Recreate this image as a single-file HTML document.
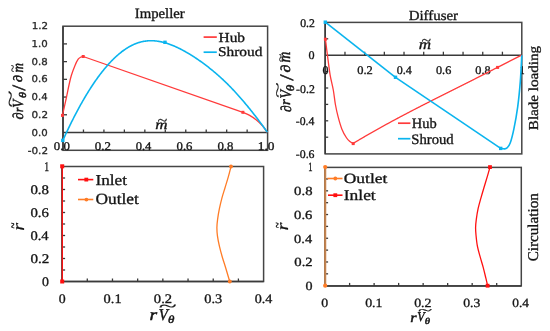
<!DOCTYPE html>
<html><head><meta charset="utf-8"><style>
html,body{margin:0;padding:0;background:#fff;}
body{width:550px;height:331px;overflow:hidden;}
svg{display:block;filter:blur(0.35px);text-rendering:geometricPrecision;}
</style></head><body>
<svg width="550" height="331" viewBox="0 0 550 331" xmlns="http://www.w3.org/2000/svg">
<rect width="550" height="331" fill="#fff"/>
<rect x="63.00" y="26.20" width="204.60" height="124.10" fill="none" stroke="#454545" stroke-width="1.5"/>
<line x1="63.00" y1="26.20" x2="63.00" y2="150.30" stroke="#3a3a3a" stroke-width="1.5" />
<line x1="63.00" y1="132.50" x2="267.60" y2="132.50" stroke="#3a3a3a" stroke-width="1.6" />
<line x1="83.46" y1="132.50" x2="83.46" y2="129.50" stroke="#3a3a3a" stroke-width="1.3" />
<line x1="103.92" y1="132.50" x2="103.92" y2="129.50" stroke="#3a3a3a" stroke-width="1.3" />
<line x1="124.38" y1="132.50" x2="124.38" y2="129.50" stroke="#3a3a3a" stroke-width="1.3" />
<line x1="144.84" y1="132.50" x2="144.84" y2="129.50" stroke="#3a3a3a" stroke-width="1.3" />
<line x1="165.30" y1="132.50" x2="165.30" y2="129.50" stroke="#3a3a3a" stroke-width="1.3" />
<line x1="185.76" y1="132.50" x2="185.76" y2="129.50" stroke="#3a3a3a" stroke-width="1.3" />
<line x1="206.22" y1="132.50" x2="206.22" y2="129.50" stroke="#3a3a3a" stroke-width="1.3" />
<line x1="226.68" y1="132.50" x2="226.68" y2="129.50" stroke="#3a3a3a" stroke-width="1.3" />
<line x1="247.14" y1="132.50" x2="247.14" y2="129.50" stroke="#3a3a3a" stroke-width="1.3" />
<line x1="63.00" y1="43.90" x2="67.00" y2="43.90" stroke="#3a3a3a" stroke-width="1.3" />
<line x1="63.00" y1="61.62" x2="67.00" y2="61.62" stroke="#3a3a3a" stroke-width="1.3" />
<line x1="63.00" y1="79.34" x2="67.00" y2="79.34" stroke="#3a3a3a" stroke-width="1.3" />
<line x1="63.00" y1="97.06" x2="67.00" y2="97.06" stroke="#3a3a3a" stroke-width="1.3" />
<line x1="63.00" y1="114.78" x2="67.00" y2="114.78" stroke="#3a3a3a" stroke-width="1.3" />
<text transform="translate(31.67 28.88) scale(1.088 1)" font-size="9.46" font-family="'DejaVu Sans', 'Liberation Sans', sans-serif" fill="#2a2a2a" stroke="#2a2a2a" stroke-width="0.32">1.2</text>
<text transform="translate(31.48 46.73) scale(1.076 1)" font-size="9.46" font-family="'DejaVu Sans', 'Liberation Sans', sans-serif" fill="#2a2a2a" stroke="#2a2a2a" stroke-width="0.32">1.0</text>
<text transform="translate(31.54 64.58) scale(1.072 1)" font-size="9.46" font-family="'DejaVu Sans', 'Liberation Sans', sans-serif" fill="#2a2a2a" stroke="#2a2a2a" stroke-width="0.32">0.8</text>
<text transform="translate(31.54 82.43) scale(1.068 1)" font-size="9.46" font-family="'DejaVu Sans', 'Liberation Sans', sans-serif" fill="#2a2a2a" stroke="#2a2a2a" stroke-width="0.32">0.6</text>
<text transform="translate(31.55 100.27) scale(1.064 1)" font-size="9.46" font-family="'DejaVu Sans', 'Liberation Sans', sans-serif" fill="#2a2a2a" stroke="#2a2a2a" stroke-width="0.32">0.4</text>
<text transform="translate(31.52 118.12) scale(1.098 1)" font-size="9.46" font-family="'DejaVu Sans', 'Liberation Sans', sans-serif" fill="#2a2a2a" stroke="#2a2a2a" stroke-width="0.32">0.2</text>
<text transform="translate(31.54 135.97) scale(1.072 1)" font-size="9.46" font-family="'DejaVu Sans', 'Liberation Sans', sans-serif" fill="#2a2a2a" stroke="#2a2a2a" stroke-width="0.32">0.0</text>
<text transform="translate(27.68 153.82) scale(1.104 1)" font-size="9.46" font-family="'DejaVu Sans', 'Liberation Sans', sans-serif" fill="#2a2a2a" stroke="#2a2a2a" stroke-width="0.32">-0.2</text>
<text transform="translate(53.79 150.40) scale(1.093 1)" font-size="11.73" font-family="'Liberation Serif', 'Times New Roman', serif" fill="#151515" stroke="#151515" stroke-width="0.32">0.0</text>
<text transform="translate(94.70 150.40) scale(1.107 1)" font-size="11.73" font-family="'Liberation Serif', 'Times New Roman', serif" fill="#151515" stroke="#151515" stroke-width="0.32">0.2</text>
<text transform="translate(135.64 150.40) scale(1.070 1)" font-size="11.73" font-family="'Liberation Serif', 'Times New Roman', serif" fill="#151515" stroke="#151515" stroke-width="0.32">0.4</text>
<text transform="translate(176.55 150.40) scale(1.084 1)" font-size="11.73" font-family="'Liberation Serif', 'Times New Roman', serif" fill="#151515" stroke="#151515" stroke-width="0.32">0.6</text>
<text transform="translate(217.47 150.40) scale(1.093 1)" font-size="11.73" font-family="'Liberation Serif', 'Times New Roman', serif" fill="#151515" stroke="#151515" stroke-width="0.32">0.8</text>
<text transform="translate(257.69 150.40) scale(1.142 1)" font-size="11.73" font-family="'Liberation Serif', 'Times New Roman', serif" fill="#151515" stroke="#151515" stroke-width="0.32">1.0</text>
<path d="M62.40,115.40 C62.82,113.57 64.13,107.85 64.90,104.40 C65.67,100.95 66.32,97.93 67.00,94.70 C67.68,91.47 68.27,88.23 69.00,85.00 C69.73,81.77 70.43,78.48 71.40,75.30 C72.37,72.12 73.67,68.58 74.80,65.90 C75.93,63.22 77.17,60.68 78.20,59.20 C79.23,57.72 80.17,57.45 81.00,57.00 C81.83,56.55 82.83,56.58 83.20,56.50" fill="none" stroke="#ff3a3a" stroke-width="1.3" stroke-linejoin="round"/>
<line x1="83.20" y1="56.50" x2="242.90" y2="112.30" stroke="#ff3a3a" stroke-width="1.3" />
<path d="M242.90,112.30 C243.95,112.77 246.95,113.83 249.20,115.10 C251.45,116.37 254.18,118.12 256.40,119.90 C258.62,121.68 260.68,123.73 262.50,125.80 C264.32,127.87 266.50,131.22 267.30,132.30" fill="none" stroke="#ff3a3a" stroke-width="1.3" stroke-linejoin="round"/>
<rect x="61.00" y="113.90" width="3" height="3" fill="#ff3a3a"/>
<rect x="81.70" y="55.00" width="3" height="3" fill="#ff3a3a"/>
<rect x="241.40" y="110.80" width="3" height="3" fill="#ff3a3a"/>
<path d="M62.80,140.50 L63.47,139.03 L64.13,137.57 L64.80,136.12 L65.47,134.69 L66.13,133.26 L66.80,131.85 L67.47,130.44 L68.13,129.04 L68.80,127.66 L69.46,126.28 L70.13,124.92 L70.80,123.56 L71.46,122.22 L72.13,120.88 L72.80,119.56 L73.46,118.24 L74.13,116.94 L74.80,115.65 L75.46,114.37 L76.13,113.09 L76.80,111.83 L77.46,110.58 L78.13,109.34 L78.79,108.11 L79.46,106.89 L80.13,105.68 L80.79,104.48 L81.46,103.29 L82.13,102.12 L82.79,100.95 L83.46,99.79 L84.13,98.65 L84.79,97.51 L85.46,96.39 L86.13,95.27 L86.79,94.17 L87.46,93.08 L88.13,92.00 L88.79,90.93 L89.46,89.87 L90.12,88.82 L90.79,87.78 L91.46,86.75 L92.12,85.74 L92.79,84.73 L93.46,83.73 L94.12,82.75 L94.79,81.78 L95.46,80.82 L96.12,79.86 L96.79,78.92 L97.46,77.99 L98.12,77.08 L98.79,76.17 L99.45,75.27 L100.12,74.39 L100.79,73.51 L101.45,72.65 L102.12,71.80 L102.79,70.96 L103.45,70.13 L104.12,69.31 L104.79,68.50 L105.45,67.71 L106.12,66.92 L106.79,66.15 L107.45,65.38 L108.12,64.63 L108.79,63.89 L109.45,63.16 L110.12,62.45 L110.78,61.74 L111.45,61.05 L112.12,60.36 L112.78,59.69 L113.45,59.03 L114.12,58.38 L114.78,57.75 L115.45,57.12 L116.12,56.50 L116.78,55.90 L117.45,55.31 L118.12,54.73 L118.78,54.16 L119.45,53.61 L120.11,53.06 L120.78,52.53 L121.45,52.00 L122.11,51.49 L122.78,50.99 L123.45,50.51 L124.11,50.03 L124.78,49.57 L125.45,49.12 L126.11,48.68 L126.78,48.25 L127.45,47.83 L128.11,47.43 L128.78,47.03 L129.44,46.65 L130.11,46.28 L130.78,45.93 L131.44,45.58 L132.11,45.25 L132.78,44.92 L133.44,44.62 L134.11,44.32 L134.78,44.03 L135.44,43.76 L136.11,43.50 L136.78,43.25 L137.44,43.01 L138.11,42.78 L138.78,42.57 L139.44,42.37 L140.11,42.18 L140.77,42.00 L141.44,41.84 L142.11,41.68 L142.77,41.54 L143.44,41.41 L144.11,41.29 L144.77,41.18 L145.44,41.09 L146.11,41.00 L146.77,40.93 L147.44,40.87 L148.11,40.82 L148.77,40.78 L149.44,40.75 L150.10,40.73 L150.77,40.72 L151.44,40.72 L152.10,40.73 L152.77,40.75 L153.44,40.78 L154.10,40.82 L154.77,40.87 L155.44,40.93 L156.10,41.00 L156.77,41.08 L157.44,41.17 L158.10,41.27 L158.77,41.37 L159.44,41.49 L160.10,41.61 L160.77,41.75 L161.43,41.89 L162.10,42.04 L162.77,42.19 L163.43,42.36 L164.10,42.53 L164.77,42.72 L165.43,42.91 L166.10,43.10 L166.77,43.31 L167.43,43.52 L168.10,43.74 L168.77,43.97 L169.43,44.21 L170.10,44.45 L170.76,44.70 L171.43,44.95 L172.10,45.21 L172.76,45.48 L173.43,45.76 L174.10,46.04 L174.76,46.33 L175.43,46.62 L176.10,46.92 L176.76,47.23 L177.43,47.54 L178.10,47.86 L178.76,48.18 L179.43,48.51 L180.10,48.84 L180.76,49.18 L181.43,49.53 L182.09,49.87 L182.76,50.23 L183.43,50.59 L184.09,50.95 L184.76,51.32 L185.43,51.69 L186.09,52.07 L186.76,52.45 L187.43,52.84 L188.09,53.23 L188.76,53.62 L189.43,54.02 L190.09,54.43 L190.76,54.84 L191.42,55.25 L192.09,55.67 L192.76,56.09 L193.42,56.52 L194.09,56.95 L194.76,57.38 L195.42,57.82 L196.09,58.27 L196.76,58.72 L197.42,59.17 L198.09,59.62 L198.76,60.08 L199.42,60.55 L200.09,61.02 L200.76,61.49 L201.42,61.97 L202.09,62.45 L202.75,62.93 L203.42,63.42 L204.09,63.92 L204.75,64.41 L205.42,64.92 L206.09,65.42 L206.75,65.93 L207.42,66.44 L208.09,66.96 L208.75,67.48 L209.42,68.01 L210.09,68.54 L210.75,69.07 L211.42,69.61 L212.08,70.15 L212.75,70.70 L213.42,71.25 L214.08,71.80 L214.75,72.36 L215.42,72.93 L216.08,73.50 L216.75,74.07 L217.42,74.65 L218.08,75.23 L218.75,75.82 L219.42,76.42 L220.08,77.01 L220.75,77.62 L221.41,78.23 L222.08,78.84 L222.75,79.46 L223.41,80.08 L224.08,80.71 L224.75,81.35 L225.41,81.99 L226.08,82.64 L226.75,83.29 L227.41,83.94 L228.08,84.61 L228.75,85.28 L229.41,85.95 L230.08,86.63 L230.75,87.31 L231.41,88.00 L232.08,88.70 L232.74,89.40 L233.41,90.10 L234.08,90.81 L234.74,91.53 L235.41,92.25 L236.08,92.98 L236.74,93.71 L237.41,94.44 L238.08,95.18 L238.74,95.93 L239.41,96.68 L240.08,97.44 L240.74,98.20 L241.41,98.96 L242.07,99.73 L242.74,100.51 L243.41,101.29 L244.07,102.08 L244.74,102.86 L245.41,103.66 L246.07,104.46 L246.74,105.26 L247.41,106.07 L248.07,106.88 L248.74,107.70 L249.41,108.52 L250.07,109.35 L250.74,110.18 L251.41,111.01 L252.07,111.85 L252.74,112.69 L253.40,113.54 L254.07,114.39 L254.74,115.25 L255.40,116.11 L256.07,116.97 L256.74,117.84 L257.40,118.72 L258.07,119.59 L258.74,120.47 L259.40,121.36 L260.07,122.25 L260.74,123.14 L261.40,124.04 L262.07,124.94 L262.73,125.84 L263.40,126.75 L264.07,127.66 L264.73,128.58 L265.40,129.50 L266.07,130.42 L266.73,131.35 L267.40,132.28" fill="none" stroke="#0ab4ee" stroke-width="1.6" stroke-linejoin="round"/>
<rect x="61.10" y="138.70" width="3.4" height="3.4" fill="#0ab4ee"/>
<rect x="163.30" y="40.60" width="3.4" height="3.4" fill="#0ab4ee"/>
<line x1="203.60" y1="37.10" x2="216.80" y2="37.10" stroke="#ff3a3a" stroke-width="1.7" />
<text transform="translate(218.54 41.60) scale(1.114 1)" font-size="13.81" font-family="'Liberation Serif', 'Times New Roman', serif" fill="#151515" stroke="#151515" stroke-width="0.32">Hub</text>
<line x1="203.60" y1="52.20" x2="216.80" y2="52.20" stroke="#0ab4ee" stroke-width="1.7" />
<text transform="translate(218.00 56.20) scale(1.162 1)" font-size="13.24" font-family="'Liberation Serif', 'Times New Roman', serif" fill="#151515" stroke="#151515" stroke-width="0.32">Shroud</text>
<text transform="translate(134.78 18.30) scale(1.047 1)" font-size="14.10" font-family="'Liberation Serif', 'Times New Roman', serif" fill="#151515" stroke="#151515" stroke-width="0.32">Impeller</text>
<rect x="325.20" y="22.40" width="196.60" height="131.50" fill="none" stroke="#454545" stroke-width="1.5"/>
<line x1="325.20" y1="22.40" x2="325.20" y2="153.90" stroke="#3a3a3a" stroke-width="1.5" />
<line x1="325.20" y1="55.20" x2="521.80" y2="55.20" stroke="#3a3a3a" stroke-width="1.6" />
<line x1="344.98" y1="55.20" x2="344.98" y2="51.70" stroke="#3a3a3a" stroke-width="1.3" />
<line x1="364.66" y1="55.20" x2="364.66" y2="51.70" stroke="#3a3a3a" stroke-width="1.3" />
<line x1="384.34" y1="55.20" x2="384.34" y2="51.70" stroke="#3a3a3a" stroke-width="1.3" />
<line x1="404.02" y1="55.20" x2="404.02" y2="51.70" stroke="#3a3a3a" stroke-width="1.3" />
<line x1="423.70" y1="55.20" x2="423.70" y2="51.70" stroke="#3a3a3a" stroke-width="1.3" />
<line x1="443.38" y1="55.20" x2="443.38" y2="51.70" stroke="#3a3a3a" stroke-width="1.3" />
<line x1="463.06" y1="55.20" x2="463.06" y2="51.70" stroke="#3a3a3a" stroke-width="1.3" />
<line x1="482.74" y1="55.20" x2="482.74" y2="51.70" stroke="#3a3a3a" stroke-width="1.3" />
<line x1="502.42" y1="55.20" x2="502.42" y2="51.70" stroke="#3a3a3a" stroke-width="1.3" />
<line x1="325.20" y1="38.80" x2="328.20" y2="38.80" stroke="#3a3a3a" stroke-width="1.3" />
<line x1="325.20" y1="71.60" x2="328.20" y2="71.60" stroke="#3a3a3a" stroke-width="1.3" />
<line x1="325.20" y1="88.00" x2="328.20" y2="88.00" stroke="#3a3a3a" stroke-width="1.3" />
<line x1="325.20" y1="104.40" x2="328.20" y2="104.40" stroke="#3a3a3a" stroke-width="1.3" />
<line x1="325.20" y1="120.80" x2="328.20" y2="120.80" stroke="#3a3a3a" stroke-width="1.3" />
<line x1="325.20" y1="137.20" x2="328.20" y2="137.20" stroke="#3a3a3a" stroke-width="1.3" />
<text transform="translate(300.13 27.10) scale(1.004 1)" font-size="11.73" font-family="'Liberation Serif', 'Times New Roman', serif" fill="#151515" stroke="#151515" stroke-width="0.32">0.2</text>
<text transform="translate(308.61 59.40) scale(1.035 1)" font-size="11.73" font-family="'Liberation Serif', 'Times New Roman', serif" fill="#151515" stroke="#151515" stroke-width="0.32">0</text>
<text transform="translate(296.09 92.50) scale(1.009 1)" font-size="11.73" font-family="'Liberation Serif', 'Times New Roman', serif" fill="#151515" stroke="#151515" stroke-width="0.32">-0.2</text>
<text transform="translate(295.79 124.90) scale(1.000 1)" font-size="11.73" font-family="'Liberation Serif', 'Times New Roman', serif" fill="#151515" stroke="#151515" stroke-width="0.32">-0.4</text>
<text transform="translate(295.79 157.50) scale(1.010 1)" font-size="11.73" font-family="'Liberation Serif', 'Times New Roman', serif" fill="#151515" stroke="#151515" stroke-width="0.32">-0.6</text>
<text transform="translate(322.62 74.10) scale(1.015 1)" font-size="11.73" font-family="'Liberation Serif', 'Times New Roman', serif" fill="#151515" stroke="#151515" stroke-width="0.32">0</text>
<text transform="translate(357.26 74.10) scale(1.063 1)" font-size="11.73" font-family="'Liberation Serif', 'Times New Roman', serif" fill="#151515" stroke="#151515" stroke-width="0.32">0.2</text>
<text transform="translate(396.64 74.10) scale(1.027 1)" font-size="11.73" font-family="'Liberation Serif', 'Times New Roman', serif" fill="#151515" stroke="#151515" stroke-width="0.32">0.4</text>
<text transform="translate(435.99 74.10) scale(1.040 1)" font-size="11.73" font-family="'Liberation Serif', 'Times New Roman', serif" fill="#151515" stroke="#151515" stroke-width="0.32">0.6</text>
<text transform="translate(475.35 74.10) scale(1.049 1)" font-size="11.73" font-family="'Liberation Serif', 'Times New Roman', serif" fill="#151515" stroke="#151515" stroke-width="0.32">0.8</text>
<text transform="translate(519.98 74.10) scale(0.774 1)" font-size="11.82" font-family="'Liberation Serif', 'Times New Roman', serif" fill="#151515" stroke="#151515" stroke-width="0.32">1</text>
<path d="M325.40,39.20 C325.73,41.82 326.62,48.97 327.40,54.90 C328.18,60.83 329.12,68.95 330.10,74.80 C331.08,80.65 332.42,85.05 333.30,90.00 C334.18,94.95 334.58,99.97 335.40,104.50 C336.22,109.03 337.13,113.13 338.20,117.20 C339.27,121.27 340.45,125.52 341.80,128.90 C343.15,132.28 344.95,135.38 346.30,137.50 C347.65,139.62 348.75,140.58 349.90,141.60 C351.05,142.62 352.65,143.27 353.20,143.60" fill="none" stroke="#ff3a3a" stroke-width="1.3" stroke-linejoin="round"/>
<path d="M353.20,143.38 L353.87,142.98 L354.53,142.58 L355.20,142.18 L355.86,141.78 L356.53,141.38 L357.19,140.99 L357.86,140.59 L358.52,140.20 L359.19,139.80 L359.85,139.41 L360.52,139.02 L361.19,138.63 L361.85,138.24 L362.52,137.85 L363.18,137.46 L363.85,137.07 L364.51,136.68 L365.18,136.30 L365.84,135.91 L366.51,135.52 L367.17,135.14 L367.84,134.76 L368.51,134.37 L369.17,133.99 L369.84,133.61 L370.50,133.23 L371.17,132.85 L371.83,132.47 L372.50,132.09 L373.16,131.72 L373.83,131.34 L374.49,130.96 L375.16,130.59 L375.82,130.21 L376.49,129.84 L377.16,129.46 L377.82,129.09 L378.49,128.72 L379.15,128.35 L379.82,127.98 L380.48,127.61 L381.15,127.24 L381.81,126.87 L382.48,126.50 L383.14,126.13 L383.81,125.77 L384.48,125.40 L385.14,125.03 L385.81,124.67 L386.47,124.30 L387.14,123.94 L387.80,123.58 L388.47,123.21 L389.13,122.85 L389.80,122.49 L390.46,122.13 L391.13,121.77 L391.80,121.41 L392.46,121.05 L393.13,120.69 L393.79,120.33 L394.46,119.97 L395.12,119.62 L395.79,119.26 L396.45,118.90 L397.12,118.55 L397.78,118.19 L398.45,117.84 L399.12,117.48 L399.78,117.13 L400.45,116.78 L401.11,116.42 L401.78,116.07 L402.44,115.72 L403.11,115.37 L403.77,115.02 L404.44,114.67 L405.10,114.32 L405.77,113.97 L406.44,113.62 L407.10,113.27 L407.77,112.92 L408.43,112.57 L409.10,112.23 L409.76,111.88 L410.43,111.53 L411.09,111.19 L411.76,110.84 L412.42,110.49 L413.09,110.15 L413.75,109.80 L414.42,109.46 L415.09,109.12 L415.75,108.77 L416.42,108.43 L417.08,108.09 L417.75,107.74 L418.41,107.40 L419.08,107.06 L419.74,106.72 L420.41,106.38 L421.07,106.03 L421.74,105.69 L422.41,105.35 L423.07,105.01 L423.74,104.67 L424.40,104.33 L425.07,103.99 L425.73,103.65 L426.40,103.31 L427.06,102.98 L427.73,102.64 L428.39,102.30 L429.06,101.96 L429.73,101.62 L430.39,101.29 L431.06,100.95 L431.72,100.61 L432.39,100.27 L433.05,99.94 L433.72,99.60 L434.38,99.26 L435.05,98.93 L435.71,98.59 L436.38,98.26 L437.05,97.92 L437.71,97.59 L438.38,97.25 L439.04,96.92 L439.71,96.58 L440.37,96.25 L441.04,95.91 L441.70,95.58 L442.37,95.24 L443.03,94.91 L443.70,94.57 L444.36,94.24 L445.03,93.90 L445.70,93.57 L446.36,93.24 L447.03,92.90 L447.69,92.57 L448.36,92.23 L449.02,91.90 L449.69,91.57 L450.35,91.23 L451.02,90.90 L451.68,90.57 L452.35,90.23 L453.02,89.90 L453.68,89.57 L454.35,89.23 L455.01,88.90 L455.68,88.57 L456.34,88.23 L457.01,87.90 L457.67,87.57 L458.34,87.23 L459.00,86.90 L459.67,86.57 L460.34,86.23 L461.00,85.90 L461.67,85.57 L462.33,85.23 L463.00,84.90 L463.66,84.56 L464.33,84.23 L464.99,83.90 L465.66,83.56 L466.32,83.23 L466.99,82.89 L467.66,82.56 L468.32,82.23 L468.99,81.89 L469.65,81.56 L470.32,81.22 L470.98,80.89 L471.65,80.55 L472.31,80.22 L472.98,79.88 L473.64,79.55 L474.31,79.21 L474.98,78.88 L475.64,78.54 L476.31,78.20 L476.97,77.87 L477.64,77.53 L478.30,77.19 L478.97,76.86 L479.63,76.52 L480.30,76.18 L480.96,75.85 L481.63,75.51 L482.29,75.17 L482.96,74.83 L483.63,74.49 L484.29,74.16 L484.96,73.82 L485.62,73.48 L486.29,73.14 L486.95,72.80 L487.62,72.46 L488.28,72.12 L488.95,71.78 L489.61,71.44 L490.28,71.10 L490.95,70.75 L491.61,70.41 L492.28,70.07 L492.94,69.73 L493.61,69.39 L494.27,69.04 L494.94,68.70 L495.60,68.36 L496.27,68.01 L496.93,67.67 L497.60,67.32" fill="none" stroke="#ff3a3a" stroke-width="1.3" stroke-linejoin="round"/>
<line x1="497.60" y1="67.40" x2="521.60" y2="55.10" stroke="#ff3a3a" stroke-width="1.3" />
<rect x="323.90" y="37.70" width="3" height="3" fill="#ff3a3a"/>
<rect x="351.70" y="142.10" width="3" height="3" fill="#ff3a3a"/>
<rect x="496.10" y="65.90" width="3" height="3" fill="#ff3a3a"/>
<line x1="325.30" y1="22.20" x2="395.50" y2="77.30" stroke="#0ab4ee" stroke-width="1.6" />
<line x1="395.50" y1="77.30" x2="500.70" y2="148.40" stroke="#0ab4ee" stroke-width="1.6" />
<path d="M500.70,148.40 C501.33,148.48 503.45,148.98 504.50,148.90 C505.55,148.82 506.05,148.87 507.00,147.90 C507.95,146.93 509.05,146.27 510.20,143.10 C511.35,139.93 512.65,134.95 513.90,128.90 C515.15,122.85 516.63,114.68 517.70,106.80 C518.77,98.92 519.62,90.20 520.30,81.60 C520.98,73.00 521.55,59.60 521.80,55.20" fill="none" stroke="#0ab4ee" stroke-width="1.6" stroke-linejoin="round"/>
<rect x="323.60" y="20.50" width="3.4" height="3.4" fill="#0ab4ee"/>
<rect x="393.80" y="75.60" width="3.4" height="3.4" fill="#0ab4ee"/>
<rect x="499.00" y="146.70" width="3.4" height="3.4" fill="#0ab4ee"/>
<line x1="398.00" y1="123.20" x2="410.40" y2="123.20" stroke="#ff3a3a" stroke-width="1.7" />
<text transform="translate(411.77 128.00) scale(1.007 1)" font-size="14.39" font-family="'Liberation Serif', 'Times New Roman', serif" fill="#151515" stroke="#151515" stroke-width="0.32">Hub</text>
<line x1="398.00" y1="138.70" x2="410.40" y2="138.70" stroke="#0ab4ee" stroke-width="1.7" />
<text transform="translate(411.24 143.50) scale(1.012 1)" font-size="14.53" font-family="'Liberation Serif', 'Times New Roman', serif" fill="#151515" stroke="#151515" stroke-width="0.32">Shroud</text>
<text transform="translate(408.65 20.20) scale(1.074 1)" font-size="13.90" font-family="'Liberation Serif', 'Times New Roman', serif" fill="#151515" stroke="#151515" stroke-width="0.32">Diffuser</text>
<text transform="translate(538.40 130.15) rotate(-90) scale(1.105 1)" font-size="13.67" font-family="'Liberation Serif', 'Times New Roman', serif" fill="#151515" stroke="#151515" stroke-width="0.32">Blade loading</text>
<rect x="62.10" y="166.50" width="201.50" height="115.00" fill="none" stroke="#454545" stroke-width="1.5"/>
<line x1="62.10" y1="166.50" x2="62.10" y2="281.50" stroke="#3a3a3a" stroke-width="1.5" />
<line x1="62.10" y1="281.50" x2="263.60" y2="281.50" stroke="#3a3a3a" stroke-width="1.5" />
<line x1="62.10" y1="270.00" x2="65.10" y2="270.00" stroke="#3a3a3a" stroke-width="1.3" />
<line x1="62.10" y1="258.50" x2="65.10" y2="258.50" stroke="#3a3a3a" stroke-width="1.3" />
<line x1="62.10" y1="247.00" x2="65.10" y2="247.00" stroke="#3a3a3a" stroke-width="1.3" />
<line x1="62.10" y1="235.50" x2="65.10" y2="235.50" stroke="#3a3a3a" stroke-width="1.3" />
<line x1="62.10" y1="224.00" x2="65.10" y2="224.00" stroke="#3a3a3a" stroke-width="1.3" />
<line x1="62.10" y1="212.50" x2="65.10" y2="212.50" stroke="#3a3a3a" stroke-width="1.3" />
<line x1="62.10" y1="201.00" x2="65.10" y2="201.00" stroke="#3a3a3a" stroke-width="1.3" />
<line x1="62.10" y1="189.50" x2="65.10" y2="189.50" stroke="#3a3a3a" stroke-width="1.3" />
<line x1="62.10" y1="178.00" x2="65.10" y2="178.00" stroke="#3a3a3a" stroke-width="1.3" />
<line x1="87.29" y1="281.50" x2="87.29" y2="278.50" stroke="#3a3a3a" stroke-width="1.3" />
<line x1="112.47" y1="281.50" x2="112.47" y2="278.50" stroke="#3a3a3a" stroke-width="1.3" />
<line x1="137.66" y1="281.50" x2="137.66" y2="278.50" stroke="#3a3a3a" stroke-width="1.3" />
<line x1="162.85" y1="281.50" x2="162.85" y2="278.50" stroke="#3a3a3a" stroke-width="1.3" />
<line x1="188.04" y1="281.50" x2="188.04" y2="278.50" stroke="#3a3a3a" stroke-width="1.3" />
<line x1="213.23" y1="281.50" x2="213.23" y2="278.50" stroke="#3a3a3a" stroke-width="1.3" />
<line x1="238.41" y1="281.50" x2="238.41" y2="278.50" stroke="#3a3a3a" stroke-width="1.3" />
<text transform="translate(44.13 171.10) scale(0.729 1)" font-size="13.33" font-family="'Liberation Serif', 'Times New Roman', serif" fill="#151515" stroke="#151515" stroke-width="0.32">1</text>
<text transform="translate(30.41 194.10) scale(1.124 1)" font-size="13.23" font-family="'Liberation Serif', 'Times New Roman', serif" fill="#151515" stroke="#151515" stroke-width="0.32">0.8</text>
<text transform="translate(30.41 217.10) scale(1.114 1)" font-size="13.23" font-family="'Liberation Serif', 'Times New Roman', serif" fill="#151515" stroke="#151515" stroke-width="0.32">0.6</text>
<text transform="translate(30.42 240.10) scale(1.100 1)" font-size="13.23" font-family="'Liberation Serif', 'Times New Roman', serif" fill="#151515" stroke="#151515" stroke-width="0.32">0.4</text>
<text transform="translate(30.40 263.10) scale(1.138 1)" font-size="13.23" font-family="'Liberation Serif', 'Times New Roman', serif" fill="#151515" stroke="#151515" stroke-width="0.32">0.2</text>
<text transform="translate(42.05 286.10) scale(1.044 1)" font-size="13.23" font-family="'Liberation Serif', 'Times New Roman', serif" fill="#151515" stroke="#151515" stroke-width="0.32">0</text>
<text transform="translate(58.65 303.30) scale(1.056 1)" font-size="13.08" font-family="'Liberation Serif', 'Times New Roman', serif" fill="#151515" stroke="#151515" stroke-width="0.32">0</text>
<text transform="translate(103.60 303.30) scale(1.103 1)" font-size="13.08" font-family="'Liberation Serif', 'Times New Roman', serif" fill="#151515" stroke="#151515" stroke-width="0.32">0.1</text>
<text transform="translate(153.87 303.30) scale(1.112 1)" font-size="13.08" font-family="'Liberation Serif', 'Times New Roman', serif" fill="#151515" stroke="#151515" stroke-width="0.32">0.2</text>
<text transform="translate(204.25 303.30) scale(1.098 1)" font-size="13.08" font-family="'Liberation Serif', 'Times New Roman', serif" fill="#151515" stroke="#151515" stroke-width="0.32">0.3</text>
<text transform="translate(254.64 303.30) scale(1.075 1)" font-size="13.08" font-family="'Liberation Serif', 'Times New Roman', serif" fill="#151515" stroke="#151515" stroke-width="0.32">0.4</text>
<line x1="62.30" y1="166.50" x2="62.30" y2="281.50" stroke="#ff1010" stroke-width="1.35" />
<rect x="60.20" y="164.30" width="4" height="4" fill="#ff1010"/>
<rect x="60.20" y="279.50" width="4" height="4" fill="#ff1010"/>
<path d="M231.00,166.50 C230.55,168.23 229.28,173.40 228.30,176.90 C227.32,180.40 226.17,183.97 225.10,187.50 C224.03,191.03 222.85,194.57 221.90,198.10 C220.95,201.63 220.12,205.17 219.40,208.70 C218.68,212.23 218.02,216.17 217.60,219.30 C217.18,222.43 216.93,224.78 216.90,227.50 C216.87,230.22 216.98,232.48 217.40,235.60 C217.82,238.72 218.60,242.68 219.40,246.20 C220.20,249.72 221.18,253.18 222.20,256.70 C223.22,260.22 224.47,263.92 225.50,267.30 C226.53,270.68 227.68,274.63 228.40,277.00 C229.12,279.37 229.57,280.75 229.80,281.50" fill="none" stroke="#ff7c26" stroke-width="1.3" stroke-linejoin="round"/>
<circle cx="231.00" cy="166.50" r="1.9" fill="#ff7c26"/>
<circle cx="229.80" cy="281.50" r="1.9" fill="#ff7c26"/>
<line x1="78.00" y1="179.60" x2="93.30" y2="179.60" stroke="#ff1010" stroke-width="1.6" />
<rect x="84.40" y="177.70" width="3.8" height="3.8" fill="#ff1010"/>
<text transform="translate(95.50 184.90) scale(1.139 1)" font-size="15.11" font-family="'Liberation Serif', 'Times New Roman', serif" fill="#151515" stroke="#151515" stroke-width="0.32">Inlet</text>
<line x1="78.00" y1="199.50" x2="93.30" y2="199.50" stroke="#ff7c26" stroke-width="1.6" />
<circle cx="86.40" cy="199.60" r="1.9" fill="#ff7c26"/>
<text transform="translate(95.40 204.20) scale(1.111 1)" font-size="15.68" font-family="'Liberation Serif', 'Times New Roman', serif" fill="#151515" stroke="#151515" stroke-width="0.32">Outlet</text>
<rect x="325.10" y="167.40" width="196.20" height="118.50" fill="none" stroke="#454545" stroke-width="1.5"/>
<line x1="325.10" y1="167.40" x2="325.10" y2="285.90" stroke="#3a3a3a" stroke-width="1.5" />
<line x1="325.10" y1="285.90" x2="521.30" y2="285.90" stroke="#3a3a3a" stroke-width="1.5" />
<line x1="325.10" y1="273.84" x2="328.10" y2="273.84" stroke="#3a3a3a" stroke-width="1.3" />
<line x1="325.10" y1="261.98" x2="328.10" y2="261.98" stroke="#3a3a3a" stroke-width="1.3" />
<line x1="325.10" y1="250.12" x2="328.10" y2="250.12" stroke="#3a3a3a" stroke-width="1.3" />
<line x1="325.10" y1="238.26" x2="328.10" y2="238.26" stroke="#3a3a3a" stroke-width="1.3" />
<line x1="325.10" y1="226.40" x2="328.10" y2="226.40" stroke="#3a3a3a" stroke-width="1.3" />
<line x1="325.10" y1="214.54" x2="328.10" y2="214.54" stroke="#3a3a3a" stroke-width="1.3" />
<line x1="325.10" y1="202.68" x2="328.10" y2="202.68" stroke="#3a3a3a" stroke-width="1.3" />
<line x1="325.10" y1="190.82" x2="328.10" y2="190.82" stroke="#3a3a3a" stroke-width="1.3" />
<line x1="325.10" y1="178.96" x2="328.10" y2="178.96" stroke="#3a3a3a" stroke-width="1.3" />
<line x1="349.61" y1="285.90" x2="349.61" y2="282.90" stroke="#3a3a3a" stroke-width="1.3" />
<line x1="374.12" y1="285.90" x2="374.12" y2="282.90" stroke="#3a3a3a" stroke-width="1.3" />
<line x1="398.64" y1="285.90" x2="398.64" y2="282.90" stroke="#3a3a3a" stroke-width="1.3" />
<line x1="423.15" y1="285.90" x2="423.15" y2="282.90" stroke="#3a3a3a" stroke-width="1.3" />
<line x1="447.66" y1="285.90" x2="447.66" y2="282.90" stroke="#3a3a3a" stroke-width="1.3" />
<line x1="472.18" y1="285.90" x2="472.18" y2="282.90" stroke="#3a3a3a" stroke-width="1.3" />
<line x1="496.69" y1="285.90" x2="496.69" y2="282.90" stroke="#3a3a3a" stroke-width="1.3" />
<text transform="translate(308.13 171.40) scale(0.682 1)" font-size="12.58" font-family="'Liberation Serif', 'Times New Roman', serif" fill="#151515" stroke="#151515" stroke-width="0.32">1</text>
<text transform="translate(294.11 195.12) scale(1.178 1)" font-size="12.48" font-family="'Liberation Serif', 'Times New Roman', serif" fill="#151515" stroke="#151515" stroke-width="0.32">0.8</text>
<text transform="translate(294.12 218.84) scale(1.168 1)" font-size="12.48" font-family="'Liberation Serif', 'Times New Roman', serif" fill="#151515" stroke="#151515" stroke-width="0.32">0.6</text>
<text transform="translate(294.12 242.56) scale(1.153 1)" font-size="12.48" font-family="'Liberation Serif', 'Times New Roman', serif" fill="#151515" stroke="#151515" stroke-width="0.32">0.4</text>
<text transform="translate(294.31 266.28) scale(1.179 1)" font-size="12.48" font-family="'Liberation Serif', 'Times New Roman', serif" fill="#151515" stroke="#151515" stroke-width="0.32">0.2</text>
<text transform="translate(305.44 290.00) scale(1.126 1)" font-size="12.48" font-family="'Liberation Serif', 'Times New Roman', serif" fill="#151515" stroke="#151515" stroke-width="0.32">0</text>
<text transform="translate(321.25 306.80) scale(1.093 1)" font-size="12.63" font-family="'Liberation Serif', 'Times New Roman', serif" fill="#151515" stroke="#151515" stroke-width="0.32">0</text>
<text transform="translate(365.17 306.80) scale(1.101 1)" font-size="12.63" font-family="'Liberation Serif', 'Times New Roman', serif" fill="#151515" stroke="#151515" stroke-width="0.32">0.1</text>
<text transform="translate(414.20 306.80) scale(1.097 1)" font-size="12.63" font-family="'Liberation Serif', 'Times New Roman', serif" fill="#151515" stroke="#151515" stroke-width="0.32">0.2</text>
<text transform="translate(463.23 306.80) scale(1.083 1)" font-size="12.63" font-family="'Liberation Serif', 'Times New Roman', serif" fill="#151515" stroke="#151515" stroke-width="0.32">0.3</text>
<text transform="translate(512.26 306.80) scale(1.060 1)" font-size="12.63" font-family="'Liberation Serif', 'Times New Roman', serif" fill="#151515" stroke="#151515" stroke-width="0.32">0.4</text>
<line x1="325.20" y1="167.10" x2="325.20" y2="285.70" stroke="#c4834f" stroke-width="2.1" />
<circle cx="325.20" cy="167.10" r="2.1" fill="#ff7c26"/>
<circle cx="325.20" cy="285.70" r="2.1" fill="#ff7c26"/>
<path d="M490.00,167.10 C489.53,168.73 488.20,173.50 487.20,176.90 C486.20,180.30 485.05,183.97 484.00,187.50 C482.95,191.03 481.88,194.57 480.90,198.10 C479.92,201.63 478.87,205.17 478.10,208.70 C477.33,212.23 476.72,216.17 476.30,219.30 C475.88,222.43 475.65,224.88 475.60,227.50 C475.55,230.12 475.70,231.88 476.00,235.00 C476.30,238.12 476.72,242.58 477.40,246.20 C478.08,249.82 479.13,253.18 480.10,256.70 C481.07,260.22 482.25,263.77 483.20,267.30 C484.15,270.83 485.07,274.83 485.80,277.90 C486.53,280.97 487.30,284.40 487.60,285.70" fill="none" stroke="#ff1010" stroke-width="1.3" stroke-linejoin="round"/>
<rect x="488.10" y="165.20" width="3.8" height="3.8" fill="#ff1010"/>
<rect x="485.70" y="283.80" width="3.8" height="3.8" fill="#ff1010"/>
<line x1="327.30" y1="178.50" x2="342.50" y2="178.50" stroke="#ff7c26" stroke-width="1.6" />
<circle cx="335.30" cy="178.50" r="1.9" fill="#ff7c26"/>
<text transform="translate(343.70 183.30) scale(1.252 1)" font-size="13.96" font-family="'Liberation Serif', 'Times New Roman', serif" fill="#151515" stroke="#151515" stroke-width="0.32">Outlet</text>
<line x1="328.00" y1="195.20" x2="342.50" y2="195.20" stroke="#ff1010" stroke-width="1.6" />
<rect x="333.40" y="193.30" width="3.8" height="3.8" fill="#ff1010"/>
<text transform="translate(343.79 200.30) scale(1.176 1)" font-size="14.82" font-family="'Liberation Serif', 'Times New Roman', serif" fill="#151515" stroke="#151515" stroke-width="0.32">Inlet</text>
<text transform="translate(538.00 261.20) rotate(-90) scale(1.010 1)" font-size="14.96" font-family="'Liberation Serif', 'Times New Roman', serif" fill="#151515" stroke="#151515" stroke-width="0.32">Circulation</text>
<text transform="translate(155.20 128.60) scale(1.252 1)" font-size="13.62" font-family="'Liberation Serif', 'Times New Roman', serif" font-style="italic" fill="#151515" stroke="#151515" stroke-width="0.32">m</text>
<text transform="translate(157.51 124.95) scale(1.232 1)" font-size="14.71" font-family="'Liberation Serif', 'Times New Roman', serif" fill="#151515" stroke="#151515" stroke-width="0.15">~</text>
<text transform="translate(418.80 49.00) scale(1.179 1)" font-size="14.47" font-family="'Liberation Serif', 'Times New Roman', serif" font-style="italic" fill="#151515" stroke="#151515" stroke-width="0.32">m</text>
<text transform="translate(421.52 44.55) scale(1.204 1)" font-size="14.71" font-family="'Liberation Serif', 'Times New Roman', serif" fill="#151515" stroke="#151515" stroke-width="0.15">~</text>
<text transform="translate(23.03 119.56) rotate(-90) scale(0.988 1)" font-size="14.69" font-family="'Liberation Serif', 'Times New Roman', serif" font-style="italic" fill="#151515" stroke="#151515" stroke-width="0.45">∂</text>
<text transform="translate(22.75 111.96) rotate(-90) scale(0.850 1)" font-size="13.19" font-family="'Liberation Serif', 'Times New Roman', serif" font-style="italic" fill="#151515" stroke="#151515" stroke-width="0.45">r</text>
<text transform="translate(22.52 107.87) rotate(-90) scale(0.850 1)" font-size="15.37" font-family="'Liberation Serif', 'Times New Roman', serif" font-style="italic" fill="#151515" stroke="#151515" stroke-width="0.45">V</text>
<text transform="translate(25.75 98.11) rotate(-90) scale(1.200 1)" font-size="10.14" font-family="'Liberation Serif', 'Times New Roman', serif" font-style="italic" fill="#151515" stroke="#151515" stroke-width="0.45">θ</text>
<text transform="translate(15.97 107.39) rotate(-90) scale(1.771 1)" font-size="17.65" font-family="'Liberation Serif', 'Times New Roman', serif" fill="#151515" stroke="#151515" stroke-width="0.15">~</text>
<text transform="translate(25.26 90.65) rotate(-90) scale(1.130 1)" font-size="18.66" font-family="'Liberation Serif', 'Times New Roman', serif" fill="#151515" stroke="#151515" stroke-width="0.45">/</text>
<text transform="translate(22.36 82.24) rotate(-90) scale(1.200 1)" font-size="12.38" font-family="'Liberation Serif', 'Times New Roman', serif" font-style="italic" fill="#151515" stroke="#151515" stroke-width="0.45">∂</text>
<text transform="translate(22.55 72.41) rotate(-90) scale(0.850 1)" font-size="15.32" font-family="'Liberation Serif', 'Times New Roman', serif" font-style="italic" fill="#151515" stroke="#151515" stroke-width="0.45">m</text>
<text transform="translate(17.36 72.17) rotate(-90) scale(1.032 1)" font-size="13.53" font-family="'Liberation Serif', 'Times New Roman', serif" fill="#151515" stroke="#151515" stroke-width="0.15">~</text>
<text transform="translate(290.63 112.12) rotate(-90) scale(0.924 1)" font-size="14.69" font-family="'Liberation Serif', 'Times New Roman', serif" font-style="italic" fill="#151515" stroke="#151515" stroke-width="0.45">∂</text>
<text transform="translate(290.35 105.04) rotate(-90) scale(1.042 1)" font-size="14.26" font-family="'Liberation Serif', 'Times New Roman', serif" font-style="italic" fill="#151515" stroke="#151515" stroke-width="0.45">r</text>
<text transform="translate(290.61 98.56) rotate(-90) scale(0.850 1)" font-size="16.12" font-family="'Liberation Serif', 'Times New Roman', serif" font-style="italic" fill="#151515" stroke="#151515" stroke-width="0.45">V</text>
<text transform="translate(294.34 91.13) rotate(-90) scale(1.200 1)" font-size="10.99" font-family="'Liberation Serif', 'Times New Roman', serif" font-style="italic" fill="#151515" stroke="#151515" stroke-width="0.45">θ</text>
<text transform="translate(282.11 97.92) rotate(-90) scale(2.066 1)" font-size="14.12" font-family="'Liberation Serif', 'Times New Roman', serif" fill="#151515" stroke="#151515" stroke-width="0.15">~</text>
<text transform="translate(292.66 80.65) rotate(-90) scale(1.180 1)" font-size="19.10" font-family="'Liberation Serif', 'Times New Roman', serif" fill="#151515" stroke="#151515" stroke-width="0.45">/</text>
<text transform="translate(290.15 72.47) rotate(-90) scale(1.200 1)" font-size="13.33" font-family="'Liberation Serif', 'Times New Roman', serif" font-style="italic" fill="#151515" stroke="#151515" stroke-width="0.45">∂</text>
<text transform="translate(290.35 62.62) rotate(-90) scale(0.850 1)" font-size="17.66" font-family="'Liberation Serif', 'Times New Roman', serif" font-style="italic" fill="#151515" stroke="#151515" stroke-width="0.45">m</text>
<text transform="translate(284.49 62.02) rotate(-90) scale(1.398 1)" font-size="11.18" font-family="'Liberation Serif', 'Times New Roman', serif" fill="#151515" stroke="#151515" stroke-width="0.15">~</text>
<text transform="translate(23.55 230.84) rotate(-90) scale(1.200 1)" font-size="16.81" font-family="'Liberation Serif', 'Times New Roman', serif" font-style="italic" fill="#151515" stroke="#151515" stroke-width="0.2">r</text>
<text transform="translate(17.54 228.58) rotate(-90) scale(0.695 1)" font-size="15.88" font-family="'Liberation Serif', 'Times New Roman', serif" fill="#151515" stroke="#151515" stroke-width="0.4">~</text>
<text transform="translate(287.55 230.49) rotate(-90) scale(1.200 1)" font-size="16.81" font-family="'Liberation Serif', 'Times New Roman', serif" font-style="italic" fill="#151515" stroke="#151515" stroke-width="0.2">r</text>
<text transform="translate(281.55 228.06) rotate(-90) scale(0.708 1)" font-size="14.71" font-family="'Liberation Serif', 'Times New Roman', serif" fill="#151515" stroke="#151515" stroke-width="0.4">~</text>
<text transform="translate(149.62 319.75) scale(1.200 1)" font-size="16.38" font-family="'Liberation Serif', 'Times New Roman', serif" font-style="italic" fill="#151515" stroke="#151515" stroke-width="0.45">r</text>
<text transform="translate(158.73 319.51) scale(0.917 1)" font-size="16.27" font-family="'Liberation Serif', 'Times New Roman', serif" font-style="italic" fill="#151515" stroke="#151515" stroke-width="0.45">V</text>
<text transform="translate(168.12 323.14) scale(1.200 1)" font-size="10.85" font-family="'Liberation Serif', 'Times New Roman', serif" font-style="italic" fill="#151515" stroke="#151515" stroke-width="0.45">θ</text>
<text transform="translate(158.75 311.92) scale(1.828 1)" font-size="18.24" font-family="'Liberation Serif', 'Times New Roman', serif" fill="#151515" stroke="#151515" stroke-width="0.15">~</text>
<text transform="translate(410.30 321.55) scale(1.196 1)" font-size="13.62" font-family="'Liberation Serif', 'Times New Roman', serif" font-style="italic" fill="#151515" stroke="#151515" stroke-width="0.45">r</text>
<text transform="translate(417.19 321.35) scale(0.893 1)" font-size="13.43" font-family="'Liberation Serif', 'Times New Roman', serif" font-style="italic" fill="#151515" stroke="#151515" stroke-width="0.45">V</text>
<text transform="translate(424.74 324.36) scale(1.200 1)" font-size="9.01" font-family="'Liberation Serif', 'Times New Roman', serif" font-style="italic" fill="#151515" stroke="#151515" stroke-width="0.45">θ</text>
<text transform="translate(417.96 314.03) scale(2.231 1)" font-size="11.76" font-family="'Liberation Serif', 'Times New Roman', serif" fill="#151515" stroke="#151515" stroke-width="0.15">~</text>
</svg>
</body></html>
